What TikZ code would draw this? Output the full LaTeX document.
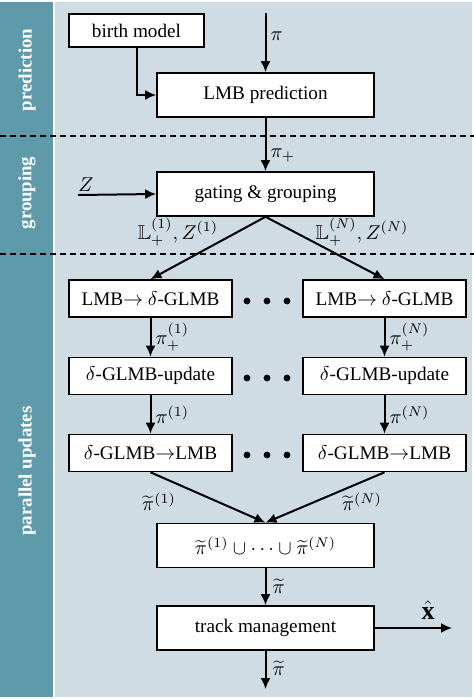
\documentclass[tikz,border=0pt]{standalone}
\usepackage{amsmath,amssymb}
\usepackage{fontspec}
\setmainfont{Liberation Serif}
\usetikzlibrary{arrows.meta}
\definecolor{stripc}{HTML}{5F9AAB}
\definecolor{bgc}{HTML}{CFDCE3}
\begin{document}
\begin{tikzpicture}[x=0.5pt,y=-0.5pt,
  box/.style={draw=black,line width=0.8pt,fill=white,inner sep=0pt,font=\fontsize{9.6}{11}\selectfont},
  bigbox/.style={box,minimum width=108.5pt,minimum height=22pt},
  smallbox/.style={box,minimum width=81.5pt,minimum height=18.5pt},
  arr/.style={line width=1pt,-{Latex[length=5.5pt,width=5pt]}},
  lab/.style={inner sep=1pt,font=\fontsize{10}{12}\selectfont},
  sect/.style={rotate=90,text=white,font=\fontsize{9.4}{11}\selectfont\bfseries},
  sep/.style={line width=0.9pt,dash pattern=on 3pt off 2pt}]
\useasboundingbox (0,0) rectangle (474,699);
\fill[white] (0,0) rectangle (474,699);
\fill[stripc] (0,2) rectangle (53,697);
\fill[bgc] (55,2) rectangle (472,697);
% section labels
\node[sect] (sp) at (27,70) {prediction};
\node[sect] (sg) at (27,193) {grouping};
\node[sect] (su) at (27,471) {parallel updates};
% separators
\draw[sep] (0,136) -- (474,136);
\draw[sep] (0,254) -- (474,254);
% nodes
\node[box,minimum width=67.5pt,minimum height=16.5pt] (bm) at (136.5,30.5) {birth model};
\node[bigbox] (lp) at (265.5,95) {LMB prediction};
\node[bigbox] (gg) at (265.5,194) {gating \& grouping};
\node[smallbox] (a1) at (150.5,298.5) {LMB$\rightarrow$ $\delta$-GLMB};
\node[smallbox] (aN) at (384.5,298.5) {LMB$\rightarrow$ $\delta$-GLMB};
\node[smallbox] (b1) at (150.5,376) {$\delta$-GLMB-update};
\node[smallbox] (bN) at (384.5,376) {$\delta$-GLMB-update};
\node[smallbox] (c1) at (150.5,453) {$\delta$-GLMB$\rightarrow$LMB};
\node[smallbox] (cN) at (384.5,453) {$\delta$-GLMB$\rightarrow$LMB};
\node[bigbox] (un) at (265.5,545.5) {$\widetilde{\pi}^{(1)}\cup\cdots\cup\widetilde{\pi}^{(N)}$};
\node[bigbox] (tm) at (265.5,628) {track management};
% dots
\foreach \yy in {301,378,455}{
  \foreach \xx in {247,267,287}{\fill (\xx,\yy) circle (1.7pt);}}
% free ends
\coordinate (in) at (265.5,13);
\coordinate (zin) at (78,195);
\coordinate (xout) at (452,628);
\coordinate (out) at (265.5,689);
% connectors
\draw[arr] (in) -- (lp.north) node[lab,pos=0.4,right=1pt] (lpi) {$\pi$};
\draw[arr] (bm.south) |- (lp.west);
\draw[arr] (lp.south) -- (gg.north) node[lab,pos=0.7,right=1pt] (lpip) {$\pi_+$};
\draw[arr] (zin) -- (gg.west);
\node[lab] (lz) at (86,185) {$Z$};
\draw[arr] (gg.south) -- (a1.north);
\draw[arr] (gg.south) -- (aN.north);
\node[lab] (l1) at (178,232) {$\mathbb{L}_+^{(1)},Z^{(1)}$};
\node[lab] (lN) at (362,232) {$\mathbb{L}_+^{(N)},Z^{(N)}$};
\draw[arr] (a1.south) -- (b1.north) node[lab,midway,right=1pt] (la1) {$\pi_+^{(1)}$};
\draw[arr] (aN.south) -- (bN.north) node[lab,midway,right=1pt] (laN) {$\pi_+^{(N)}$};
\draw[arr] (b1.south) -- (c1.north) node[lab,midway,right=1pt] (lb1) {$\pi^{(1)}$};
\draw[arr] (bN.south) -- (cN.north) node[lab,midway,right=1pt] (lbN) {$\pi^{(N)}$};
\draw[arr] (c1.south) -- (un.north);
\draw[arr] (cN.south) -- (un.north);
\node[lab] (lc1) at (159,502) {$\widetilde{\pi}^{(1)}$};
\node[lab] (lcN) at (362,502) {$\widetilde{\pi}^{(N)}$};
\draw[arr] (un.south) -- (tm.north) node[lab,midway,right=2pt] (lu) {$\widetilde{\pi}$};
\draw[arr] (tm.south) -- (out) node[lab,pos=0.45,right=2pt] (lo) {$\widetilde{\pi}$};
\draw[arr] (tm.east) -- (xout);
\node[lab,font=\fontsize{13}{15}\selectfont] (lx) at (428,610) {$\hat{\mathbf{x}}$};
\end{tikzpicture}
\end{document}
